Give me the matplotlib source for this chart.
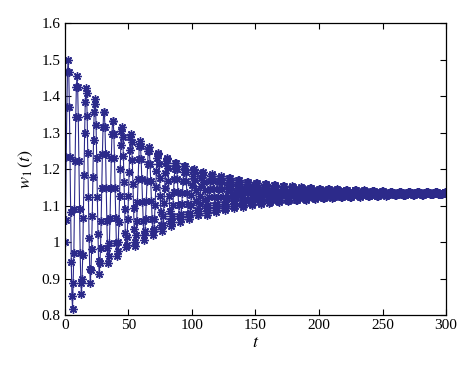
import numpy as np
import matplotlib
matplotlib.use('Agg')
from matplotlib import pyplot as plt
from matplotlib.ticker import FormatStrFormatter

# sampling step of the series (t = 0 ... 300)
t_step = 0.5

# w1(t), one row per oscillation (period ~7)
w1_early = [
    1.000, 1.060, 1.235, 1.371, 1.466, 1.500, 1.466, 1.371, 1.235, 1.083, 0.947, 0.852, 0.818,
    0.889, 0.971, 1.091, 1.223, 1.343, 1.425, 1.455, 1.425, 1.343, 1.223, 1.091, 0.971, 0.889, 0.859,
    0.900, 0.964, 1.066, 1.185, 1.299, 1.384, 1.423, 1.410, 1.346, 1.244, 1.125, 1.011, 0.926, 0.887,
    0.924, 0.982, 1.072, 1.179, 1.280, 1.356, 1.392, 1.380, 1.322, 1.232, 1.125, 1.024, 0.948, 0.912,
    0.942, 0.983, 1.058, 1.150, 1.242, 1.317, 1.358, 1.358, 1.317, 1.242, 1.150, 1.058, 0.983, 0.942,
    0.963, 0.999, 1.066, 1.148, 1.230, 1.297, 1.333, 1.333, 1.297, 1.230, 1.148, 1.066, 0.999, 0.963,
    0.977, 1.002, 1.056, 1.127, 1.202, 1.266, 1.306, 1.315, 1.290, 1.236, 1.165, 1.090, 1.026, 0.986,
    0.992, 1.014, 1.063, 1.127, 1.194, 1.252, 1.288, 1.296, 1.274, 1.225, 1.161, 1.094, 1.036, 1.000, 0.991,
    1.019, 1.057, 1.111, 1.173, 1.227, 1.265, 1.279, 1.265, 1.227, 1.173, 1.111, 1.057, 1.019, 1.005,
    1.031, 1.065, 1.113, 1.167, 1.215, 1.249, 1.261, 1.249, 1.215, 1.167, 1.113, 1.065, 1.031, 1.019,
    1.037, 1.063, 1.103, 1.151, 1.196, 1.230, 1.246, 1.241, 1.215, 1.175, 1.127, 1.082, 1.048, 1.032,
]
w1_mid = [
    1.048, 1.071, 1.107, 1.149, 1.189, 1.218, 1.232, 1.228, 1.205, 1.169, 1.127, 1.087, 1.058, 1.044,
    1.056, 1.072, 1.101, 1.137, 1.173, 1.202, 1.218, 1.218, 1.202, 1.173, 1.137, 1.101, 1.072, 1.056,
    1.064, 1.078, 1.104, 1.136, 1.168, 1.194, 1.208, 1.208, 1.194, 1.168, 1.136, 1.104, 1.078, 1.064,
    1.070, 1.080, 1.101, 1.129, 1.158, 1.183, 1.198, 1.202, 1.192, 1.171, 1.143, 1.114, 1.089, 1.074,
    1.076, 1.085, 1.104, 1.128, 1.154, 1.177, 1.191, 1.194, 1.185, 1.166, 1.142, 1.116, 1.093, 1.079, 1.076,
    1.088, 1.103, 1.123, 1.147, 1.167, 1.182, 1.187, 1.182, 1.167, 1.147, 1.123, 1.103, 1.088, 1.083,
    1.093, 1.106, 1.125, 1.145, 1.164, 1.177, 1.182, 1.177, 1.164, 1.145, 1.125, 1.106, 1.093, 1.088,
    1.095, 1.105, 1.121, 1.140, 1.157, 1.171, 1.177, 1.175, 1.165, 1.149, 1.130, 1.113, 1.099, 1.093,
    1.100, 1.109, 1.123, 1.139, 1.155, 1.166, 1.172, 1.170, 1.161, 1.147, 1.131, 1.115, 1.104, 1.098,
    1.102, 1.108, 1.120, 1.134, 1.148, 1.160, 1.166, 1.166, 1.160, 1.148, 1.134, 1.120, 1.108, 1.102,
    1.105, 1.111, 1.121, 1.134, 1.147, 1.157, 1.163, 1.163, 1.157, 1.147, 1.134, 1.121, 1.111, 1.105,
    1.108, 1.112, 1.120, 1.131, 1.143, 1.152, 1.159, 1.160, 1.156, 1.148, 1.137, 1.125, 1.116, 1.109,
    1.111, 1.115, 1.122, 1.131, 1.142, 1.150, 1.156, 1.157, 1.153, 1.146, 1.137, 1.126, 1.118, 1.112, 1.111,
]
w1_late = [
    1.115, 1.121, 1.129, 1.139, 1.147, 1.153, 1.155, 1.153, 1.147, 1.139, 1.129, 1.121, 1.115, 1.113,
    1.117, 1.122, 1.130, 1.138, 1.146, 1.151, 1.153, 1.151, 1.146, 1.138, 1.130, 1.122, 1.117, 1.115,
    1.118, 1.122, 1.128, 1.136, 1.143, 1.148, 1.151, 1.150, 1.146, 1.140, 1.132, 1.125, 1.120, 1.117,
    1.120, 1.123, 1.129, 1.136, 1.142, 1.147, 1.149, 1.148, 1.145, 1.139, 1.132, 1.126, 1.121, 1.119,
    1.121, 1.124, 1.128, 1.134, 1.140, 1.144, 1.147, 1.147, 1.144, 1.140, 1.134, 1.128, 1.124, 1.121,
    1.122, 1.125, 1.129, 1.134, 1.139, 1.143, 1.146, 1.146, 1.143, 1.139, 1.134, 1.129, 1.125, 1.122,
    1.123, 1.125, 1.128, 1.133, 1.138, 1.142, 1.144, 1.145, 1.143, 1.140, 1.135, 1.130, 1.126, 1.124,
    1.125, 1.126, 1.129, 1.133, 1.137, 1.141, 1.143, 1.143, 1.142, 1.139, 1.135, 1.131, 1.127, 1.125, 1.125,
    1.126, 1.129, 1.132, 1.136, 1.139, 1.142, 1.143, 1.142, 1.139, 1.136, 1.132, 1.129, 1.126, 1.125,
    1.127, 1.129, 1.132, 1.136, 1.139, 1.141, 1.142, 1.141, 1.139, 1.136, 1.132, 1.129, 1.127, 1.127,
    1.128, 1.129, 1.132, 1.135, 1.138, 1.140, 1.141, 1.140, 1.139, 1.136, 1.133, 1.130, 1.128, 1.127,
    1.128, 1.130, 1.132, 1.135, 1.137, 1.139, 1.140, 1.140, 1.138, 1.136, 1.133, 1.131, 1.129, 1.128,
    1.129, 1.130, 1.132, 1.134, 1.136, 1.138, 1.139, 1.139, 1.138, 1.136, 1.134, 1.132, 1.130, 1.129,
    1.129, 1.130, 1.132, 1.134, 1.136, 1.138, 1.139, 1.139, 1.138, 1.136, 1.134, 1.132, 1.130, 1.129,
    1.130, 1.130, 1.132, 1.134, 1.135, 1.137, 1.138, 1.138, 1.138, 1.136, 1.134, 1.133, 1.131, 1.130,
    1.130, 1.131, 1.132, 1.134, 1.135, 1.137, 1.138, 1.138, 1.137, 1.136, 1.134, 1.133, 1.131, 1.130, 1.130,
    1.131, 1.132, 1.133, 1.135, 1.136, 1.137, 1.137, 1.137, 1.136, 1.135, 1.133, 1.132, 1.131, 1.131,
    1.131, 1.132, 1.133, 1.135, 1.136, 1.137, 1.137, 1.137, 1.136, 1.135, 1.133, 1.132, 1.131, 1.131,
    1.131, 1.132, 1.133, 1.134, 1.135, 1.136, 1.137, 1.137, 1.136,
]

x_ticks = [0, 50, 100, 150, 200, 250, 300]
y_ticks = [0.8, 0.9, 1.0, 1.1, 1.2, 1.3, 1.4, 1.5, 1.6]

w1 = np.array(w1_early + w1_mid + w1_late)
t = np.arange(len(w1)) * t_step

plt.rcParams['font.family'] = ['Liberation Serif', 'DejaVu Serif']
plt.rcParams['mathtext.fontset'] = 'stix'

fig = plt.figure(figsize=(4.74, 3.73), dpi=100)
ax = fig.add_axes([0.137, 0.155, 0.804, 0.782])

ax.plot(t, w1, '-', color='#2c2a8a', lw=0.8, marker=(8, 2, 0),
        markersize=6, markeredgewidth=1.0)

ax.set_xlim(0, 300)
ax.set_ylim(0.8, 1.6)
ax.set_xticks(x_ticks)
ax.set_yticks(y_ticks)
ax.yaxis.set_major_formatter(FormatStrFormatter('%g'))
ax.tick_params(direction='in', top=True, right=True, length=4, width=0.8,
               labelsize=11, pad=3)
for s in ax.spines.values():
    s.set_linewidth(0.9)

ax.set_xlabel(r'$t$', fontsize=13, labelpad=1)
ax.set_ylabel(r'$w_1\,(t)$', fontsize=13, labelpad=5)

fig.savefig('out.png', dpi=100)
